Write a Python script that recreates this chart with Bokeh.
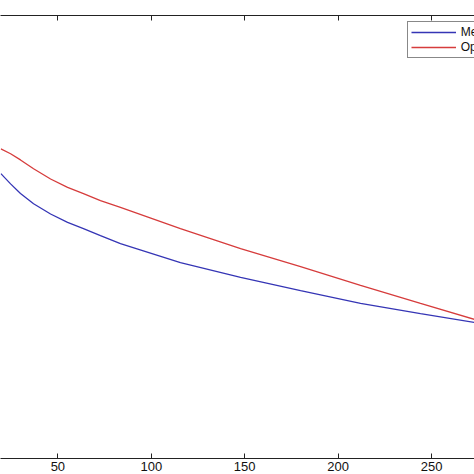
from bokeh.plotting import figure
from bokeh.models import LinearAxis, FixedTicker, Legend, LegendItem, Range1d
from bokeh.embed import file_html
from bokeh.resources import INLINE

# data (x in plot units, y in arbitrary units 0..1)
x_vals = [19.5, 24.7, 30.0, 37.0, 46.1, 55.2, 63.7, 72.8, 83.5, 115.6, 147.8, 179.9, 212.0, 244.1, 273.0]
blue_vals = [0.643, 0.620, 0.598, 0.575, 0.552, 0.533, 0.519, 0.503, 0.485, 0.442, 0.409, 0.379, 0.350, 0.327, 0.307]
red_vals = [0.699, 0.688, 0.674, 0.654, 0.631, 0.612, 0.598, 0.582, 0.567, 0.519, 0.474, 0.433, 0.391, 0.350, 0.314]
x_ticks = [50, 100, 150, 200, 250]
series_names = ["Measured", "Optimal"]

FONT = "Liberation Sans"

p = figure(width=474, height=474, output_backend="svg", toolbar_location=None,
           x_range=Range1d(19.3, 273.0), y_range=Range1d(0, 1),
           x_axis_location=None, y_axis_location=None,
           min_border_left=0, min_border_right=0, min_border_top=15, min_border_bottom=16)
p.outline_line_color = None
p.xgrid.visible = False
p.ygrid.visible = False
p.background_fill_color = "white"
p.border_fill_color = "white"

def make_axis(show_labels):
    ax = LinearAxis(ticker=FixedTicker(ticks=x_ticks))
    ax.major_tick_in = 5
    ax.major_tick_out = 0
    ax.minor_tick_in = 0
    ax.minor_tick_out = 0
    ax.axis_line_color = "#222222"
    ax.major_tick_line_color = "#222222"
    ax.major_label_text_font = FONT
    ax.major_label_text_color = "#111111"
    if show_labels:
        ax.major_label_text_font_size = "13px"
        ax.major_label_standoff = 3
    else:
        ax.major_label_text_font_size = "0px"
        ax.major_label_standoff = 0
        ax.major_label_text_color = None
    return ax

p.add_layout(make_axis(True), "below")
p.add_layout(make_axis(False), "above")

r_blue = p.line(x_vals, blue_vals, line_color="#3535b5", line_width=1.3)
r_red = p.line(x_vals, red_vals, line_color="#d63c3c", line_width=1.3)

legend = Legend(items=[LegendItem(label=series_names[0], renderers=[r_blue]),
                       LegendItem(label=series_names[1], renderers=[r_red])],
                location=(406.7, 400.3))
legend.label_text_font = FONT
legend.label_text_font_size = "12px"
legend.label_text_color = "#111111"
legend.label_height = 14
legend.glyph_height = 14
legend.glyph_width = 45
legend.label_standoff = 5
legend.spacing = 1
legend.padding = 3
legend.margin = 0
legend.border_line_color = "#111111"
legend.border_line_width = 1
legend.background_fill_color = "white"
legend.background_fill_alpha = 1.0
p.add_layout(legend, "center")

open("out.html", "w").write(file_html(p, INLINE))
